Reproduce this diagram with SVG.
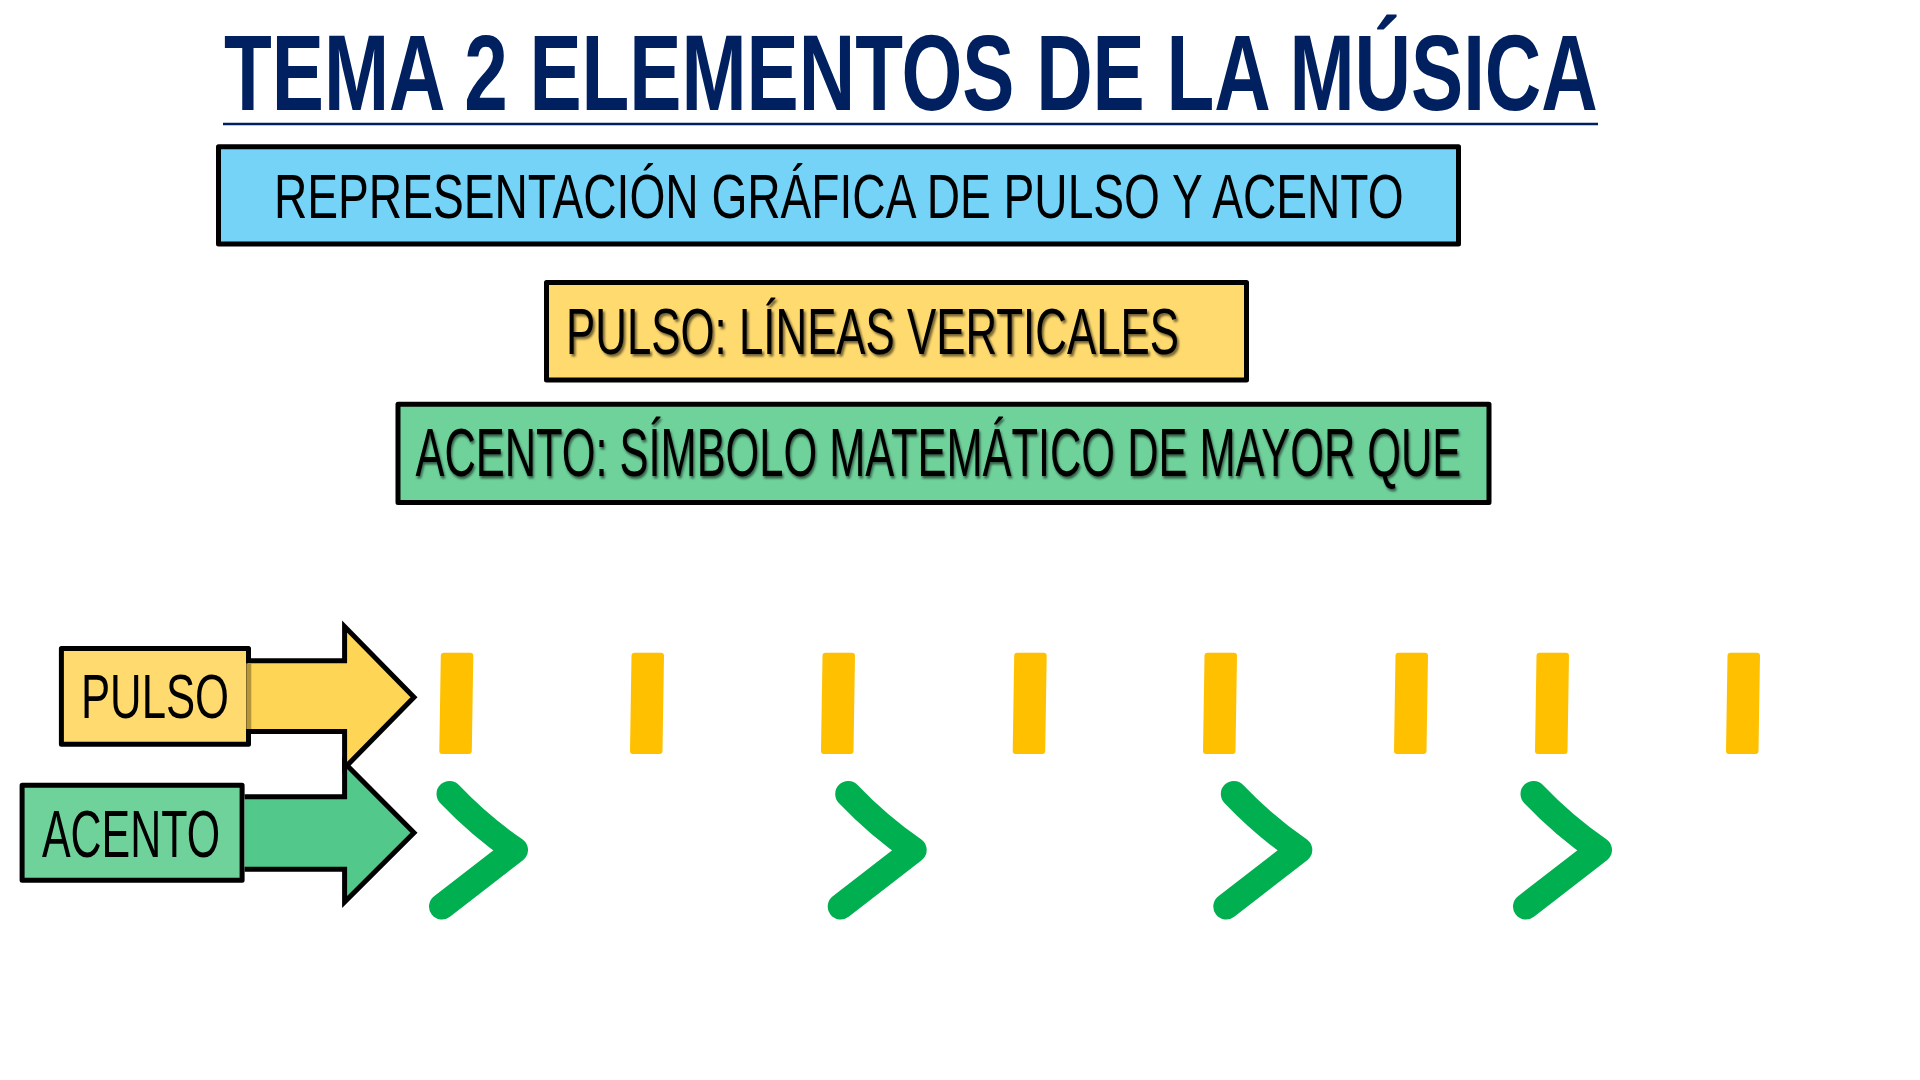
<svg xmlns="http://www.w3.org/2000/svg" width="1920" height="1080" viewBox="0 0 1920 1080">
<defs>
<style>
.t{font-family:"Liberation Sans",Arial,sans-serif;fill:#000}
.title{font-family:"Liberation Sans",Arial,sans-serif;font-weight:700;fill:#002060;font-size:108px}
.box{stroke:#000;stroke-width:5;stroke-linejoin:round}
.bar{fill:#FFC000;stroke:#FFC000;stroke-width:6;stroke-linejoin:round}
.chev{fill:none;stroke:#00B050;stroke-width:26;stroke-linecap:round;stroke-linejoin:round}
.arrow{stroke:#000;stroke-width:5;stroke-linejoin:miter}
</style>
<filter id="sh" x="-5%" y="-20%" width="110%" height="150%">
<feDropShadow dx="2" dy="2.5" stdDeviation="1.3" flood-color="#000" flood-opacity="0.55"/>
</filter>
<path id="barShape" d="M4.5,655.7 L31,655.7 L29.5,751 L3,751 Z"/>
<path id="chevShape" d="M449.5,794 Q480,826 515,850 L442,906.5"/>
</defs>
<rect width="1920" height="1080" fill="#fff"/>

<g id="title">
<text class="title" transform="translate(224,110) scale(0.72,1)" x="0" y="0" textLength="1908" lengthAdjust="spacingAndGlyphs">TEMA 2 ELEMENTOS DE LA MÚSICA</text>
<line x1="223" y1="124" x2="1598" y2="124" stroke="#002060" stroke-width="2.5"/>
</g>

<g id="node-representacion">
<rect class="box" x="218.5" y="146.7" width="1240" height="97.3" fill="#75D3F7"/>
<text class="t" transform="translate(274,218.3) scale(0.725,1)" x="0" y="0" font-size="63" textLength="1558" lengthAdjust="spacingAndGlyphs">REPRESENTACIÓN GRÁFICA DE PULSO Y ACENTO</text>
</g>

<g id="node-pulso-def">
<rect class="box" x="546.5" y="282.5" width="700" height="97.5" fill="#FFDA6F"/>
<text class="t" x="566" y="354" font-size="65" textLength="613" lengthAdjust="spacingAndGlyphs" filter="url(#sh)">PULSO: LÍNEAS VERTICALES</text>
</g>

<g id="node-acento-def">
<rect class="box" x="398" y="404.2" width="1091" height="98.3" fill="#6FD29B"/>
<text class="t" transform="translate(415.5,476) scale(0.63,1)" x="0" y="0" font-size="68" textLength="1660" lengthAdjust="spacingAndGlyphs" filter="url(#sh)">ACENTO: SÍMBOLO MATEMÁTICO DE MAYOR QUE</text>
</g>

<g id="node-pulso">
<rect class="box" x="61.4" y="648.5" width="187.1" height="95.7" fill="#FFDA6F"/>
<text class="t" x="81" y="718.3" font-size="63" textLength="148" lengthAdjust="spacingAndGlyphs">PULSO</text>
</g>

<g id="node-acento">
<rect class="box" x="22.1" y="785.2" width="220" height="95" fill="#6FD29B"/>
<text class="t" x="42" y="856.7" font-size="67" textLength="178" lengthAdjust="spacingAndGlyphs">ACENTO</text>
</g>

<g id="connectors">
<path id="arrow-acento" class="arrow" fill="#52C98A" d="M244.6,796.8 H344.6 V763 L414,832.7 L344.6,902 V869.2 H244.6"/>
<path id="arrow-pulso" class="arrow" fill="#FFD556" d="M248,660.8 H344.6 V626.5 L414,697.3 L344.6,768 V731.5 H248"/>
<rect x="246.3" y="663.3" width="5" height="65.7" fill="#B5953A"/>
</g>

<g id="pulse-bars">
<use href="#barShape" class="bar" x="439.3"/>
<use href="#barShape" class="bar" x="630"/>
<use href="#barShape" class="bar" x="821"/>
<use href="#barShape" class="bar" x="1012.7"/>
<use href="#barShape" class="bar" x="1203"/>
<use href="#barShape" class="bar" x="1394"/>
<use href="#barShape" class="bar" x="1535"/>
<use href="#barShape" class="bar" x="1726"/>
</g>

<g id="accent-marks">
<use href="#chevShape" class="chev" x="0"/>
<use href="#chevShape" class="chev" x="398.7"/>
<use href="#chevShape" class="chev" x="784.3"/>
<use href="#chevShape" class="chev" x="1084"/>
</g>
</svg>
